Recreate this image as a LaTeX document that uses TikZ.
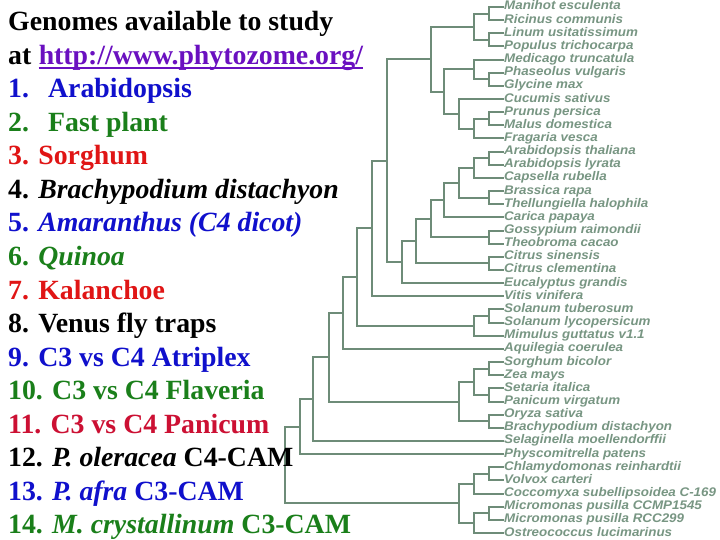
\documentclass[tikz,border=0pt]{standalone}
\usepackage{fontspec}
\setmainfont{Liberation Serif}
\newfontfamily\leaffont[FakeStretch=1.07]{Liberation Sans}
\usetikzlibrary{calc}
\definecolor{treeline}{HTML}{6E8C78}
\definecolor{leaftext}{HTML}{789683}
\definecolor{myblue}{HTML}{1010CC}
\definecolor{mygreen}{HTML}{1A7F1A}
\definecolor{myred}{HTML}{E01515}
\definecolor{mycrimson}{HTML}{CC1033}
\definecolor{mypurple}{HTML}{6A10C0}
\newcommand\jn[4]{%
  \coordinate (#1m) at ($(#3)!0.5!(#4)$);
  \coordinate (#1) at (#1m -| X#2);
  \draw[edge] (#1) |- (#3);
  \draw[edge] (#1) |- (#4);}
\begin{document}
\begin{tikzpicture}[x=1pt,y=-1pt,
  edge/.style={draw=treeline, line width=2pt},
  leaf/.style={anchor=west, inner sep=0pt, text height=8.5pt, text depth=2.5pt,
    font=\leaffont\bfseries\itshape\fontsize{12.5}{13}\selectfont, text=leaftext},
  txt/.style={anchor=base west, inner sep=0pt, font=\bfseries\fontsize{27.8}{30}\selectfont}]
\useasboundingbox (0,0) rectangle (720,540);
\fill[white] (0,0) rectangle (720,540);
% x levels
\foreach \xx in {489,474,459,444,431,416,402,387,372,357,343,329,313,300,285}
  \coordinate (X\xx) at (\xx,0);
% leaves
\foreach \name [count=\i] in {
  Manihot esculenta, Ricinus communis, Linum usitatissimum, Populus trichocarpa,
  Medicago truncatula, Phaseolus vulgaris, Glycine max, Cucumis sativus,
  Prunus persica, Malus domestica, Fragaria vesca, Arabidopsis thaliana,
  Arabidopsis lyrata, Capsella rubella, Brassica rapa, Thellungiella halophila,
  Carica papaya, Gossypium raimondii, Theobroma cacao, Citrus sinensis,
  Citrus clementina, Eucalyptus grandis, Vitis vinifera, Solanum tuberosum,
  Solanum lycopersicum, Mimulus guttatus v1.1, Aquilegia coerulea, Sorghum bicolor,
  Zea mays, Setaria italica, Panicum virgatum, Oryza sativa,
  Brachypodium distachyon, Selaginella moellendorffii, Physcomitrella patens,
  Chlamydomonas reinhardtii, Volvox carteri, Coccomyxa subellipsoidea C-169,
  Micromonas pusilla CCMP1545, Micromonas pusilla RCC299, Ostreococcus lucimarinus}
  \node[leaf] (l\i) at (504, {7+13.15*(\i-1)}) {\name};
% tree
\jn{a1}{489}{l1.west}{l2.west}
\jn{a2}{489}{l3.west}{l4.west}
\jn{a3}{474}{a1}{a2}
\jn{b1}{489}{l6.west}{l7.west}
\jn{b2}{474}{l5.west}{b1}
\jn{c1}{489}{l9.west}{l10.west}
\jn{c2}{474}{c1}{l11.west}
\jn{c3}{459}{l8.west}{c2}
\jn{b3}{444}{b2}{c3}
\jn{r1}{431}{a3}{b3}
\jn{d1}{489}{l12.west}{l13.west}
\jn{d2}{474}{d1}{l14.west}
\jn{d3}{489}{l15.west}{l16.west}
\jn{d4}{459}{d2}{d3}
\jn{d5}{444}{d4}{l17.west}
\jn{e1}{489}{l18.west}{l19.west}
\jn{d6}{431}{d5}{e1}
\jn{f1}{489}{l20.west}{l21.west}
\jn{d7}{416}{d6}{f1}
\jn{d8}{402}{d7}{l22.west}
\jn{g1}{387}{r1}{d8}
\jn{g2}{372}{g1}{l23.west}
\jn{h1}{489}{l24.west}{l25.west}
\jn{h2}{474}{h1}{l26.west}
\jn{g3}{357}{g2}{h2}
\jn{g4}{343}{g3}{l27.west}
\jn{m1}{489}{l28.west}{l29.west}
\jn{m2}{489}{l30.west}{l31.west}
\jn{m3}{474}{m1}{m2}
\jn{m4}{489}{l32.west}{l33.west}
\jn{m5}{459}{m3}{m4}
\jn{g5}{329}{g4}{m5}
\jn{g6}{313}{g5}{l34.west}
\jn{g7}{300}{g6}{l35.west}
\jn{p1}{489}{l36.west}{l37.west}
\jn{p2}{474}{p1}{l38.west}
\jn{p3}{489}{l39.west}{l40.west}
\jn{p4}{474}{p3}{l41.west}
\jn{p5}{459}{p2}{p4}
\jn{root}{285}{g7}{p5}
% left text
\node[txt] (t1) at (8,31) {Genomes available to study};
\node[txt] (t2) at (8,64.5) {at};
\node[txt, text=mypurple] (link) at ([xshift=7pt]t2.base east) {http://www.phytozome.org/};
\draw[mypurple, line width=1.8pt] ([yshift=-3.5pt]link.base west) -- ([yshift=-3.5pt]link.base east);
\node[txt, text=myblue] (i1) at (8,98) {\makebox[40pt][l]{1.}Arabidopsis};
\node[txt, text=mygreen] (i2) at (8,131.5) {\makebox[40pt][l]{2.}Fast plant};
\node[txt, text=myred] (i3) at (8,165) {3. Sorghum};
\node[txt] (i4) at (8,198.5) {4. \textit{Brachypodium distachyon}};
\node[txt, text=myblue] (i5) at (8,232) {5. \textit{Amaranthus (C4 dicot)}};
\node[txt, text=mygreen] (i6) at (8,265.5) {6. \textit{Quinoa}};
\node[txt, text=myred] (i7) at (8,299) {7. Kalanchoe};
\node[txt] (i8) at (8,332.5) {8. Venus fly traps};
\node[txt, text=myblue] (i9) at (8,366) {9. C3 vs C4 Atriplex};
\node[txt, text=mygreen] (i10) at (8,399.5) {10. C3 vs C4 Flaveria};
\node[txt, text=mycrimson] (i11) at (8,433) {11. C3 vs C4 Panicum};
\node[txt] (i12) at (8,466.5) {12. \textit{P. oleracea} C4-CAM};
\node[txt, text=myblue] (i13) at (8,500) {13. \textit{P. afra} C3-CAM};
\node[txt, text=mygreen] (i14) at (8,533.5) {14. \textit{M. crystallinum} C3-CAM};
\end{tikzpicture}
\end{document}
